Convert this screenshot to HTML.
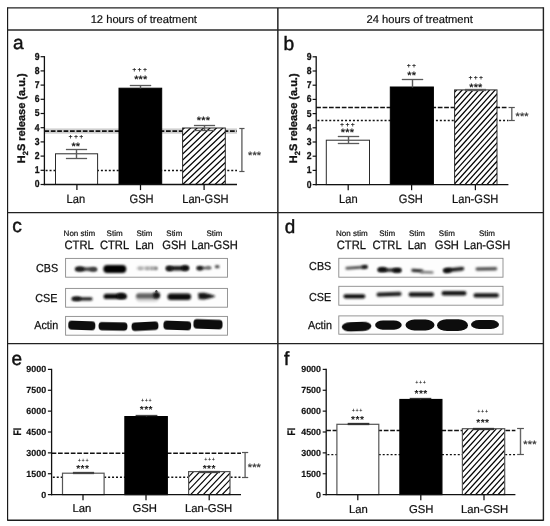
<!DOCTYPE html>
<html><head><meta charset="utf-8"><title>Figure</title>
<style>html,body{margin:0;padding:0;background:#fff;}svg{display:block;text-rendering:geometricPrecision;}text{font-family:'Liberation Sans', Arial, Helvetica, sans-serif;}</style>
</head><body>
<svg width="550" height="526" viewBox="0 0 550 526" font-family='"Liberation Sans", Arial, Helvetica, sans-serif'>
<defs>
<filter id="b1" x="-20%" y="-80%" width="140%" height="260%"><feGaussianBlur stdDeviation="0.9"/></filter>
<filter id="b2" x="-20%" y="-80%" width="140%" height="260%"><feGaussianBlur stdDeviation="1.3"/></filter>
<filter id="b0" x="-20%" y="-80%" width="140%" height="260%"><feGaussianBlur stdDeviation="0.6"/></filter>
</defs>
<rect width="550" height="526" fill="#fff"/>
<line x1="7.60" y1="7.20" x2="7.60" y2="520.85" stroke="#151515" stroke-width="1.15" />
<line x1="543.40" y1="7.20" x2="543.40" y2="520.85" stroke="#222" stroke-width="1.4" />
<line x1="7.60" y1="7.90" x2="543.40" y2="7.90" stroke="#222" stroke-width="1.4" />
<line x1="7.60" y1="520.20" x2="543.40" y2="520.20" stroke="#1c1c1c" stroke-width="1.35" />
<line x1="7.60" y1="29.95" x2="543.40" y2="29.95" stroke="#2a2a2a" stroke-width="1.5" />
<line x1="7.60" y1="212.60" x2="543.40" y2="212.60" stroke="#222" stroke-width="1.3" />
<line x1="7.60" y1="343.60" x2="543.40" y2="343.60" stroke="#222" stroke-width="1.3" />
<line x1="277.85" y1="7.90" x2="277.85" y2="520.20" stroke="#262626" stroke-width="1.5" />
<text x="143.80" y="23.20" font-size="11.2" text-anchor="middle" font-weight="normal" fill="#111" stroke="#111" stroke-width="0.2" >12 hours of treatment</text>
<text x="419.70" y="23.20" font-size="11.2" text-anchor="middle" font-weight="normal" fill="#111" stroke="#111" stroke-width="0.2" >24 hours of treatment</text>
<text x="12.90" y="49.10" font-size="19" text-anchor="start" font-weight="normal" fill="#111" stroke="#111" stroke-width="0.45" >a</text>
<text x="283.50" y="49.60" font-size="19.2" text-anchor="start" font-weight="normal" fill="#111" stroke="#111" stroke-width="0.45" >b</text>
<text x="12.20" y="232.30" font-size="19.2" text-anchor="start" font-weight="normal" fill="#111" stroke="#111" stroke-width="0.45" >c</text>
<text x="284.80" y="232.70" font-size="18.9" text-anchor="start" font-weight="normal" fill="#111" stroke="#111" stroke-width="0.45" >d</text>
<text x="11.50" y="364.70" font-size="19" text-anchor="start" font-weight="normal" fill="#111" stroke="#111" stroke-width="0.45" >e</text>
<text x="284.10" y="365.00" font-size="19" text-anchor="start" font-weight="normal" fill="#111" stroke="#111" stroke-width="0.45" >f</text>
<rect x="44.4" y="128.4" width="192.60" height="5.30" fill="#cfcfcf"/>
<line x1="44.40" y1="131.10" x2="237.00" y2="131.10" stroke="#111" stroke-width="1.55" stroke-dasharray="4.7 1.7"/>
<line x1="45.60" y1="170.40" x2="237.00" y2="170.40" stroke="#111" stroke-width="1.45" stroke-dasharray="2 1.95"/>
<rect x="55.50" y="153.80" width="42.10" height="30.70" fill="#fff" stroke="#2a2a2a" stroke-width="1"/>
<rect x="119.00" y="88.20" width="42.70" height="96.30" fill="#000" stroke="#000" stroke-width="1"/>
<rect x="182.60" y="128.00" width="42.70" height="56.50" fill="#fff"/>
<clipPath id="clip_ha"><rect x="182.60" y="128.00" width="42.70" height="56.50"/></clipPath>
<g clip-path="url(#clip_ha)" stroke="#000" stroke-width="1.25">
<line x1="123.59" y1="185.50" x2="185.24" y2="127.00"/>
<line x1="130.04" y1="185.50" x2="191.69" y2="127.00"/>
<line x1="136.49" y1="185.50" x2="198.14" y2="127.00"/>
<line x1="142.94" y1="185.50" x2="204.59" y2="127.00"/>
<line x1="149.39" y1="185.50" x2="211.04" y2="127.00"/>
<line x1="155.84" y1="185.50" x2="217.49" y2="127.00"/>
<line x1="162.29" y1="185.50" x2="223.94" y2="127.00"/>
<line x1="168.74" y1="185.50" x2="230.39" y2="127.00"/>
<line x1="175.19" y1="185.50" x2="236.84" y2="127.00"/>
<line x1="181.64" y1="185.50" x2="243.29" y2="127.00"/>
<line x1="188.09" y1="185.50" x2="249.74" y2="127.00"/>
<line x1="194.54" y1="185.50" x2="256.19" y2="127.00"/>
<line x1="200.99" y1="185.50" x2="262.64" y2="127.00"/>
<line x1="207.44" y1="185.50" x2="269.09" y2="127.00"/>
<line x1="213.89" y1="185.50" x2="275.54" y2="127.00"/>
<line x1="220.34" y1="185.50" x2="281.99" y2="127.00"/>
</g>
<rect x="182.60" y="128.00" width="42.70" height="56.50" fill="none" stroke="#2a2a2a" stroke-width="1"/>
<line x1="76.50" y1="149.50" x2="76.50" y2="158.50" stroke="#5a5a5a" stroke-width="1.4" />
<line x1="65.90" y1="149.50" x2="87.10" y2="149.50" stroke="#5a5a5a" stroke-width="1.3" />
<line x1="65.90" y1="158.50" x2="87.10" y2="158.50" stroke="#5a5a5a" stroke-width="1.3" />
<line x1="140.50" y1="85.50" x2="140.50" y2="88.50" stroke="#5a5a5a" stroke-width="1.4" />
<line x1="129.80" y1="85.50" x2="151.20" y2="85.50" stroke="#5a5a5a" stroke-width="1.3" />
<line x1="204.50" y1="125.50" x2="204.50" y2="130.50" stroke="#5a5a5a" stroke-width="1.4" />
<line x1="193.90" y1="125.50" x2="215.10" y2="125.50" stroke="#5a5a5a" stroke-width="1.3" />
<line x1="193.90" y1="130.50" x2="215.10" y2="130.50" stroke="#5a5a5a" stroke-width="1.3" />
<line x1="44.40" y1="56.10" x2="44.40" y2="185.15" stroke="#111" stroke-width="1.3" />
<line x1="43.75" y1="184.50" x2="237.00" y2="184.50" stroke="#111" stroke-width="1.3" />
<line x1="40.60" y1="184.50" x2="44.40" y2="184.50" stroke="#111" stroke-width="1.2" />
<text transform="translate(39.50,187.40) scale(0.86,1)" font-size="10.0" text-anchor="end" font-weight="bold" fill="#111" stroke="#111" stroke-width="0.3">0</text>
<line x1="40.60" y1="170.30" x2="44.40" y2="170.30" stroke="#111" stroke-width="1.2" />
<text transform="translate(39.50,173.20) scale(0.86,1)" font-size="10.0" text-anchor="end" font-weight="bold" fill="#111" stroke="#111" stroke-width="0.3">1</text>
<line x1="40.60" y1="156.10" x2="44.40" y2="156.10" stroke="#111" stroke-width="1.2" />
<text transform="translate(39.50,159.00) scale(0.86,1)" font-size="10.0" text-anchor="end" font-weight="bold" fill="#111" stroke="#111" stroke-width="0.3">2</text>
<line x1="40.60" y1="141.90" x2="44.40" y2="141.90" stroke="#111" stroke-width="1.2" />
<text transform="translate(39.50,144.80) scale(0.86,1)" font-size="10.0" text-anchor="end" font-weight="bold" fill="#111" stroke="#111" stroke-width="0.3">3</text>
<line x1="40.60" y1="127.70" x2="44.40" y2="127.70" stroke="#111" stroke-width="1.2" />
<text transform="translate(39.50,130.60) scale(0.86,1)" font-size="10.0" text-anchor="end" font-weight="bold" fill="#111" stroke="#111" stroke-width="0.3">4</text>
<line x1="40.60" y1="113.50" x2="44.40" y2="113.50" stroke="#111" stroke-width="1.2" />
<text transform="translate(39.50,116.40) scale(0.86,1)" font-size="10.0" text-anchor="end" font-weight="bold" fill="#111" stroke="#111" stroke-width="0.3">5</text>
<line x1="40.60" y1="99.30" x2="44.40" y2="99.30" stroke="#111" stroke-width="1.2" />
<text transform="translate(39.50,102.20) scale(0.86,1)" font-size="10.0" text-anchor="end" font-weight="bold" fill="#111" stroke="#111" stroke-width="0.3">6</text>
<line x1="40.60" y1="85.10" x2="44.40" y2="85.10" stroke="#111" stroke-width="1.2" />
<text transform="translate(39.50,88.00) scale(0.86,1)" font-size="10.0" text-anchor="end" font-weight="bold" fill="#111" stroke="#111" stroke-width="0.3">7</text>
<line x1="40.60" y1="70.90" x2="44.40" y2="70.90" stroke="#111" stroke-width="1.2" />
<text transform="translate(39.50,73.80) scale(0.86,1)" font-size="10.0" text-anchor="end" font-weight="bold" fill="#111" stroke="#111" stroke-width="0.3">8</text>
<line x1="40.60" y1="56.70" x2="44.40" y2="56.70" stroke="#111" stroke-width="1.2" />
<text transform="translate(39.50,59.60) scale(0.86,1)" font-size="10.0" text-anchor="end" font-weight="bold" fill="#111" stroke="#111" stroke-width="0.3">9</text>
<line x1="76.90" y1="184.50" x2="76.90" y2="190.10" stroke="#111" stroke-width="1.25" />
<text transform="translate(75.80,203.00) scale(0.92,1)" font-size="12.1" text-anchor="middle" font-weight="normal" fill="#111" stroke="#111" stroke-width="0.22" >Lan</text>
<line x1="140.50" y1="184.50" x2="140.50" y2="190.10" stroke="#111" stroke-width="1.25" />
<text transform="translate(141.60,203.00) scale(0.92,1)" font-size="12.1" text-anchor="middle" font-weight="normal" fill="#111" stroke="#111" stroke-width="0.22" >GSH</text>
<line x1="204.10" y1="184.50" x2="204.10" y2="190.10" stroke="#111" stroke-width="1.25" />
<text transform="translate(205.40,203.00) scale(0.92,1)" font-size="12.1" text-anchor="middle" font-weight="normal" fill="#111" stroke="#111" stroke-width="0.22" >Lan-GSH</text>
<line x1="241.90" y1="128.50" x2="241.90" y2="171.50" stroke="#666" stroke-width="1.4" />
<line x1="239.30" y1="128.50" x2="244.50" y2="128.50" stroke="#555" stroke-width="1.2" />
<line x1="239.30" y1="171.50" x2="244.50" y2="171.50" stroke="#555" stroke-width="1.2" />
<text x="250.20 254.60 259.00" y="158.52" font-size="11" text-anchor="middle" font-weight="bold" fill="#444">***</text>
<text x="136.30 140.70 145.10" y="83.42" font-size="11" text-anchor="middle" font-weight="bold" fill="#222">***</text>
<text x="73.55 77.95" y="149.52" font-size="11" text-anchor="middle" font-weight="bold" fill="#222">**</text>
<text x="199.00 203.40 207.80" y="123.72" font-size="11" text-anchor="middle" font-weight="bold" fill="#222">***</text>
<text x="134.30 139.60 144.90" y="72.19" font-size="6.9" text-anchor="middle" font-weight="bold" fill="#222">+++</text>
<text x="70.60 75.90 81.20" y="138.89" font-size="6.9" text-anchor="middle" font-weight="bold" fill="#222">+++</text>
<text transform="translate(24.7,118.3) rotate(-90)" font-size="11" font-weight="bold" text-anchor="middle" fill="#111" stroke="#111" stroke-width="0.3">H<tspan font-size="7.5" dy="2.8">2</tspan><tspan dy="-2.8">S release (a.u.)</tspan></text>
<line x1="316.20" y1="107.45" x2="508.40" y2="107.45" stroke="#111" stroke-width="1.55" stroke-dasharray="4.7 1.7"/>
<line x1="317.40" y1="120.50" x2="508.40" y2="120.50" stroke="#111" stroke-width="1.45" stroke-dasharray="2 1.95"/>
<rect x="326.30" y="140.20" width="43.20" height="44.40" fill="#fff" stroke="#2a2a2a" stroke-width="1"/>
<rect x="390.30" y="87.00" width="43.10" height="97.60" fill="#000" stroke="#000" stroke-width="1"/>
<rect x="454.60" y="89.90" width="42.40" height="94.70" fill="#fff"/>
<clipPath id="clip_hb"><rect x="454.60" y="89.90" width="42.40" height="94.70"/></clipPath>
<g clip-path="url(#clip_hb)" stroke="#000" stroke-width="1.25">
<line x1="370.54" y1="185.60" x2="457.61" y2="88.90"/>
<line x1="376.04" y1="185.60" x2="463.11" y2="88.90"/>
<line x1="381.54" y1="185.60" x2="468.61" y2="88.90"/>
<line x1="387.04" y1="185.60" x2="474.11" y2="88.90"/>
<line x1="392.54" y1="185.60" x2="479.61" y2="88.90"/>
<line x1="398.04" y1="185.60" x2="485.11" y2="88.90"/>
<line x1="403.54" y1="185.60" x2="490.61" y2="88.90"/>
<line x1="409.04" y1="185.60" x2="496.11" y2="88.90"/>
<line x1="414.54" y1="185.60" x2="501.61" y2="88.90"/>
<line x1="420.04" y1="185.60" x2="507.11" y2="88.90"/>
<line x1="425.54" y1="185.60" x2="512.61" y2="88.90"/>
<line x1="431.04" y1="185.60" x2="518.11" y2="88.90"/>
<line x1="436.54" y1="185.60" x2="523.61" y2="88.90"/>
<line x1="442.04" y1="185.60" x2="529.11" y2="88.90"/>
<line x1="447.54" y1="185.60" x2="534.61" y2="88.90"/>
<line x1="453.04" y1="185.60" x2="540.11" y2="88.90"/>
<line x1="458.54" y1="185.60" x2="545.61" y2="88.90"/>
<line x1="464.04" y1="185.60" x2="551.11" y2="88.90"/>
<line x1="469.54" y1="185.60" x2="556.61" y2="88.90"/>
<line x1="475.04" y1="185.60" x2="562.11" y2="88.90"/>
<line x1="480.54" y1="185.60" x2="567.61" y2="88.90"/>
<line x1="486.04" y1="185.60" x2="573.11" y2="88.90"/>
<line x1="491.54" y1="185.60" x2="578.61" y2="88.90"/>
<line x1="497.04" y1="185.60" x2="584.11" y2="88.90"/>
</g>
<rect x="454.60" y="89.90" width="42.40" height="94.70" fill="none" stroke="#2a2a2a" stroke-width="1"/>
<line x1="348.50" y1="136.50" x2="348.50" y2="143.50" stroke="#5a5a5a" stroke-width="1.4" />
<line x1="337.80" y1="136.50" x2="359.20" y2="136.50" stroke="#5a5a5a" stroke-width="1.3" />
<line x1="337.80" y1="143.50" x2="359.20" y2="143.50" stroke="#5a5a5a" stroke-width="1.3" />
<line x1="412.50" y1="79.50" x2="412.50" y2="87.50" stroke="#5a5a5a" stroke-width="1.4" />
<line x1="401.80" y1="79.50" x2="423.20" y2="79.50" stroke="#5a5a5a" stroke-width="1.3" />
<line x1="475.50" y1="89.50" x2="475.50" y2="90.50" stroke="#5a5a5a" stroke-width="1.4" />
<line x1="464.90" y1="89.50" x2="486.10" y2="89.50" stroke="#5a5a5a" stroke-width="1.3" />
<line x1="464.90" y1="90.50" x2="486.10" y2="90.50" stroke="#5a5a5a" stroke-width="1.3" />
<line x1="316.20" y1="56.20" x2="316.20" y2="185.25" stroke="#111" stroke-width="1.3" />
<line x1="315.55" y1="184.60" x2="508.40" y2="184.60" stroke="#111" stroke-width="1.3" />
<line x1="312.60" y1="184.60" x2="316.20" y2="184.60" stroke="#111" stroke-width="1.2" />
<text transform="translate(311.60,187.50) scale(0.86,1)" font-size="10.0" text-anchor="end" font-weight="bold" fill="#111" stroke="#111" stroke-width="0.3">0</text>
<line x1="312.60" y1="170.40" x2="316.20" y2="170.40" stroke="#111" stroke-width="1.2" />
<text transform="translate(311.60,173.30) scale(0.86,1)" font-size="10.0" text-anchor="end" font-weight="bold" fill="#111" stroke="#111" stroke-width="0.3">1</text>
<line x1="312.60" y1="156.20" x2="316.20" y2="156.20" stroke="#111" stroke-width="1.2" />
<text transform="translate(311.60,159.10) scale(0.86,1)" font-size="10.0" text-anchor="end" font-weight="bold" fill="#111" stroke="#111" stroke-width="0.3">2</text>
<line x1="312.60" y1="142.00" x2="316.20" y2="142.00" stroke="#111" stroke-width="1.2" />
<text transform="translate(311.60,144.90) scale(0.86,1)" font-size="10.0" text-anchor="end" font-weight="bold" fill="#111" stroke="#111" stroke-width="0.3">3</text>
<line x1="312.60" y1="127.80" x2="316.20" y2="127.80" stroke="#111" stroke-width="1.2" />
<text transform="translate(311.60,130.70) scale(0.86,1)" font-size="10.0" text-anchor="end" font-weight="bold" fill="#111" stroke="#111" stroke-width="0.3">4</text>
<line x1="312.60" y1="113.60" x2="316.20" y2="113.60" stroke="#111" stroke-width="1.2" />
<text transform="translate(311.60,116.50) scale(0.86,1)" font-size="10.0" text-anchor="end" font-weight="bold" fill="#111" stroke="#111" stroke-width="0.3">5</text>
<line x1="312.60" y1="99.40" x2="316.20" y2="99.40" stroke="#111" stroke-width="1.2" />
<text transform="translate(311.60,102.30) scale(0.86,1)" font-size="10.0" text-anchor="end" font-weight="bold" fill="#111" stroke="#111" stroke-width="0.3">6</text>
<line x1="312.60" y1="85.20" x2="316.20" y2="85.20" stroke="#111" stroke-width="1.2" />
<text transform="translate(311.60,88.10) scale(0.86,1)" font-size="10.0" text-anchor="end" font-weight="bold" fill="#111" stroke="#111" stroke-width="0.3">7</text>
<line x1="312.60" y1="71.00" x2="316.20" y2="71.00" stroke="#111" stroke-width="1.2" />
<text transform="translate(311.60,73.90) scale(0.86,1)" font-size="10.0" text-anchor="end" font-weight="bold" fill="#111" stroke="#111" stroke-width="0.3">8</text>
<line x1="312.60" y1="56.80" x2="316.20" y2="56.80" stroke="#111" stroke-width="1.2" />
<text transform="translate(311.60,59.70) scale(0.86,1)" font-size="10.0" text-anchor="end" font-weight="bold" fill="#111" stroke="#111" stroke-width="0.3">9</text>
<line x1="348.20" y1="184.60" x2="348.20" y2="190.20" stroke="#111" stroke-width="1.25" />
<text transform="translate(348.40,203.00) scale(0.92,1)" font-size="12.1" text-anchor="middle" font-weight="normal" fill="#111" stroke="#111" stroke-width="0.22" >Lan</text>
<line x1="411.60" y1="184.60" x2="411.60" y2="190.20" stroke="#111" stroke-width="1.25" />
<text transform="translate(410.80,203.00) scale(0.92,1)" font-size="12.1" text-anchor="middle" font-weight="normal" fill="#111" stroke="#111" stroke-width="0.22" >GSH</text>
<line x1="475.40" y1="184.60" x2="475.40" y2="190.20" stroke="#111" stroke-width="1.25" />
<text transform="translate(475.20,203.00) scale(0.92,1)" font-size="12.1" text-anchor="middle" font-weight="normal" fill="#111" stroke="#111" stroke-width="0.22" >Lan-GSH</text>
<line x1="511.80" y1="107.50" x2="511.80" y2="120.50" stroke="#666" stroke-width="1.4" />
<line x1="508.80" y1="107.50" x2="514.80" y2="107.50" stroke="#555" stroke-width="1.2" />
<line x1="508.80" y1="120.50" x2="514.80" y2="120.50" stroke="#555" stroke-width="1.2" />
<text x="517.70 522.10 526.50" y="119.62" font-size="11" text-anchor="middle" font-weight="bold" fill="#444">***</text>
<text x="343.00 347.40 351.80" y="136.42" font-size="11" text-anchor="middle" font-weight="bold" fill="#222">***</text>
<text x="409.50 413.90" y="78.52" font-size="11" text-anchor="middle" font-weight="bold" fill="#222">**</text>
<text x="471.40 475.80 480.20" y="90.52" font-size="11" text-anchor="middle" font-weight="bold" fill="#222">***</text>
<text x="342.10 347.40 352.70" y="127.49" font-size="6.9" text-anchor="middle" font-weight="bold" fill="#222">+++</text>
<text x="408.75 414.05" y="67.79" font-size="6.9" text-anchor="middle" font-weight="bold" fill="#222">++</text>
<text x="470.50 475.80 481.10" y="80.39" font-size="6.9" text-anchor="middle" font-weight="bold" fill="#222">+++</text>
<text transform="translate(296.9,118.3) rotate(-90)" font-size="11" font-weight="bold" text-anchor="middle" fill="#111" stroke="#111" stroke-width="0.3">H<tspan font-size="7.5" dy="2.8">2</tspan><tspan dy="-2.8">S release (a.u.)</tspan></text>
<line x1="51.60" y1="453.25" x2="241.00" y2="453.25" stroke="#111" stroke-width="1.55" stroke-dasharray="4.7 1.7"/>
<line x1="52.80" y1="477.20" x2="241.00" y2="477.20" stroke="#111" stroke-width="1.45" stroke-dasharray="2 1.95"/>
<rect x="62.50" y="473.20" width="41.60" height="21.40" fill="#fff" stroke="#555" stroke-width="1.2"/>
<rect x="124.90" y="416.60" width="42.40" height="78.00" fill="#000" stroke="#000" stroke-width="1.2"/>
<rect x="188.60" y="471.60" width="41.40" height="23.00" fill="#fff"/>
<clipPath id="clip_he"><rect x="188.60" y="471.60" width="41.40" height="23.00"/></clipPath>
<g clip-path="url(#clip_he)" stroke="#000" stroke-width="1.15">
<line x1="164.53" y1="495.60" x2="188.25" y2="470.60"/>
<line x1="170.83" y1="495.60" x2="194.55" y2="470.60"/>
<line x1="177.13" y1="495.60" x2="200.85" y2="470.60"/>
<line x1="183.43" y1="495.60" x2="207.15" y2="470.60"/>
<line x1="189.73" y1="495.60" x2="213.45" y2="470.60"/>
<line x1="196.03" y1="495.60" x2="219.75" y2="470.60"/>
<line x1="202.33" y1="495.60" x2="226.05" y2="470.60"/>
<line x1="208.63" y1="495.60" x2="232.35" y2="470.60"/>
<line x1="214.93" y1="495.60" x2="238.65" y2="470.60"/>
<line x1="221.23" y1="495.60" x2="244.95" y2="470.60"/>
<line x1="227.53" y1="495.60" x2="251.25" y2="470.60"/>
</g>
<rect x="188.60" y="471.60" width="41.40" height="23.00" fill="none" stroke="#555" stroke-width="1.2"/>
<line x1="83.50" y1="472.50" x2="83.50" y2="473.50" stroke="#444" stroke-width="1.4" />
<line x1="72.90" y1="472.50" x2="94.10" y2="472.50" stroke="#444" stroke-width="1.3" />
<line x1="72.90" y1="473.50" x2="94.10" y2="473.50" stroke="#444" stroke-width="1.3" />
<line x1="146.50" y1="415.50" x2="146.50" y2="416.50" stroke="#444" stroke-width="1.4" />
<line x1="135.60" y1="415.50" x2="157.40" y2="415.50" stroke="#444" stroke-width="1.3" />
<line x1="209.50" y1="471.50" x2="209.50" y2="472.50" stroke="#444" stroke-width="1.4" />
<line x1="199.00" y1="471.50" x2="220.00" y2="471.50" stroke="#444" stroke-width="1.3" />
<line x1="199.00" y1="472.50" x2="220.00" y2="472.50" stroke="#444" stroke-width="1.3" />
<line x1="51.60" y1="368.80" x2="51.60" y2="495.25" stroke="#111" stroke-width="1.3" />
<line x1="50.95" y1="494.60" x2="241.00" y2="494.60" stroke="#111" stroke-width="1.3" />
<line x1="47.90" y1="494.60" x2="51.60" y2="494.60" stroke="#111" stroke-width="1.2" />
<text transform="translate(46.10,497.65) scale(1,1)" font-size="8.9" text-anchor="end" font-weight="bold" fill="#111" stroke="#111" stroke-width="0.15">0</text>
<line x1="47.90" y1="473.73" x2="51.60" y2="473.73" stroke="#111" stroke-width="1.2" />
<text transform="translate(46.10,476.78) scale(1,1)" font-size="8.9" text-anchor="end" font-weight="bold" fill="#111" stroke="#111" stroke-width="0.15">1500</text>
<line x1="47.90" y1="452.87" x2="51.60" y2="452.87" stroke="#111" stroke-width="1.2" />
<text transform="translate(46.10,455.92) scale(1,1)" font-size="8.9" text-anchor="end" font-weight="bold" fill="#111" stroke="#111" stroke-width="0.15">3000</text>
<line x1="47.90" y1="432.00" x2="51.60" y2="432.00" stroke="#111" stroke-width="1.2" />
<text transform="translate(46.10,435.05) scale(1,1)" font-size="8.9" text-anchor="end" font-weight="bold" fill="#111" stroke="#111" stroke-width="0.15">4500</text>
<line x1="47.90" y1="411.13" x2="51.60" y2="411.13" stroke="#111" stroke-width="1.2" />
<text transform="translate(46.10,414.18) scale(1,1)" font-size="8.9" text-anchor="end" font-weight="bold" fill="#111" stroke="#111" stroke-width="0.15">6000</text>
<line x1="47.90" y1="390.27" x2="51.60" y2="390.27" stroke="#111" stroke-width="1.2" />
<text transform="translate(46.10,393.32) scale(1,1)" font-size="8.9" text-anchor="end" font-weight="bold" fill="#111" stroke="#111" stroke-width="0.15">7500</text>
<line x1="47.90" y1="369.40" x2="51.60" y2="369.40" stroke="#111" stroke-width="1.2" />
<text transform="translate(46.10,372.45) scale(1,1)" font-size="8.9" text-anchor="end" font-weight="bold" fill="#111" stroke="#111" stroke-width="0.15">9000</text>
<line x1="83.00" y1="494.60" x2="83.00" y2="500.20" stroke="#111" stroke-width="1.25" />
<text x="81.90" y="512.30" font-size="11.3" text-anchor="middle" font-weight="normal" fill="#111" stroke="#111" stroke-width="0.22" >Lan</text>
<line x1="146.00" y1="494.60" x2="146.00" y2="500.20" stroke="#111" stroke-width="1.25" />
<text x="144.70" y="512.30" font-size="11.3" text-anchor="middle" font-weight="normal" fill="#111" stroke="#111" stroke-width="0.22" >GSH</text>
<line x1="209.20" y1="494.60" x2="209.20" y2="500.20" stroke="#111" stroke-width="1.25" />
<text x="208.60" y="512.30" font-size="11.3" text-anchor="middle" font-weight="normal" fill="#111" stroke="#111" stroke-width="0.22" >Lan-GSH</text>
<line x1="245.10" y1="452.50" x2="245.10" y2="477.50" stroke="#666" stroke-width="1.4" />
<line x1="242.00" y1="452.50" x2="248.20" y2="452.50" stroke="#555" stroke-width="1.2" />
<line x1="242.00" y1="477.50" x2="248.20" y2="477.50" stroke="#555" stroke-width="1.2" />
<text x="249.90 254.30 258.70" y="471.22" font-size="11" text-anchor="middle" font-weight="bold" fill="#444">***</text>
<text x="78.20 82.60 87.00" y="472.42" font-size="10.2" text-anchor="middle" font-weight="bold" fill="#222">***</text>
<text x="141.80 146.20 150.60" y="413.12" font-size="10.2" text-anchor="middle" font-weight="bold" fill="#222">***</text>
<text x="204.65 209.05 213.45" y="471.62" font-size="10.2" text-anchor="middle" font-weight="bold" fill="#222">***</text>
<text x="79.40 83.20 87.00" y="462.20" font-size="5.4" text-anchor="middle" font-weight="bold" fill="#222">+++</text>
<text x="142.50 146.30 150.10" y="402.20" font-size="5.4" text-anchor="middle" font-weight="bold" fill="#222">+++</text>
<text x="205.80 209.60 213.40" y="461.10" font-size="5.4" text-anchor="middle" font-weight="bold" fill="#222">+++</text>
<text transform="translate(21.1,431.6) rotate(-90) scale(0.78,1)" font-size="10.9" font-weight="bold" text-anchor="middle" fill="#111" stroke="#111" stroke-width="0.3">FI</text>
<line x1="326.20" y1="430.55" x2="515.40" y2="430.55" stroke="#111" stroke-width="1.55" stroke-dasharray="4.7 1.7"/>
<line x1="327.40" y1="454.60" x2="515.40" y2="454.60" stroke="#111" stroke-width="1.45" stroke-dasharray="2 1.95"/>
<rect x="336.90" y="424.30" width="41.90" height="70.30" fill="#fff" stroke="#555" stroke-width="1.2"/>
<rect x="399.90" y="399.50" width="42.00" height="95.10" fill="#000" stroke="#000" stroke-width="1.2"/>
<rect x="462.40" y="428.70" width="42.30" height="65.90" fill="#fff"/>
<clipPath id="clip_hf"><rect x="462.40" y="428.70" width="42.30" height="65.90"/></clipPath>
<g clip-path="url(#clip_hf)" stroke="#000" stroke-width="1.25">
<line x1="401.93" y1="495.60" x2="463.72" y2="427.70"/>
<line x1="407.53" y1="495.60" x2="469.32" y2="427.70"/>
<line x1="413.13" y1="495.60" x2="474.92" y2="427.70"/>
<line x1="418.73" y1="495.60" x2="480.52" y2="427.70"/>
<line x1="424.33" y1="495.60" x2="486.12" y2="427.70"/>
<line x1="429.93" y1="495.60" x2="491.72" y2="427.70"/>
<line x1="435.53" y1="495.60" x2="497.32" y2="427.70"/>
<line x1="441.13" y1="495.60" x2="502.92" y2="427.70"/>
<line x1="446.73" y1="495.60" x2="508.52" y2="427.70"/>
<line x1="452.33" y1="495.60" x2="514.12" y2="427.70"/>
<line x1="457.93" y1="495.60" x2="519.72" y2="427.70"/>
<line x1="463.53" y1="495.60" x2="525.32" y2="427.70"/>
<line x1="469.13" y1="495.60" x2="530.92" y2="427.70"/>
<line x1="474.73" y1="495.60" x2="536.52" y2="427.70"/>
<line x1="480.33" y1="495.60" x2="542.12" y2="427.70"/>
<line x1="485.93" y1="495.60" x2="547.72" y2="427.70"/>
<line x1="491.53" y1="495.60" x2="553.32" y2="427.70"/>
<line x1="497.13" y1="495.60" x2="558.92" y2="427.70"/>
<line x1="502.73" y1="495.60" x2="564.52" y2="427.70"/>
</g>
<rect x="462.40" y="428.70" width="42.30" height="65.90" fill="none" stroke="#555" stroke-width="1.2"/>
<line x1="358.50" y1="423.50" x2="358.50" y2="424.50" stroke="#333" stroke-width="1.4" />
<line x1="347.70" y1="423.50" x2="369.30" y2="423.50" stroke="#333" stroke-width="1.3" />
<line x1="347.70" y1="424.50" x2="369.30" y2="424.50" stroke="#333" stroke-width="1.3" />
<line x1="420.50" y1="398.50" x2="420.50" y2="399.50" stroke="#333" stroke-width="1.4" />
<line x1="409.70" y1="398.50" x2="431.30" y2="398.50" stroke="#333" stroke-width="1.3" />
<line x1="483.50" y1="428.50" x2="483.50" y2="429.50" stroke="#333" stroke-width="1.4" />
<line x1="472.90" y1="428.50" x2="494.10" y2="428.50" stroke="#333" stroke-width="1.3" />
<line x1="472.90" y1="429.50" x2="494.10" y2="429.50" stroke="#333" stroke-width="1.3" />
<line x1="326.20" y1="368.80" x2="326.20" y2="495.25" stroke="#111" stroke-width="1.3" />
<line x1="325.55" y1="494.60" x2="515.40" y2="494.60" stroke="#111" stroke-width="1.3" />
<line x1="322.70" y1="494.60" x2="326.20" y2="494.60" stroke="#111" stroke-width="1.2" />
<text transform="translate(321.00,497.65) scale(1,1)" font-size="8.9" text-anchor="end" font-weight="bold" fill="#111" stroke="#111" stroke-width="0.15">0</text>
<line x1="322.70" y1="473.73" x2="326.20" y2="473.73" stroke="#111" stroke-width="1.2" />
<text transform="translate(321.00,476.78) scale(1,1)" font-size="8.9" text-anchor="end" font-weight="bold" fill="#111" stroke="#111" stroke-width="0.15">1500</text>
<line x1="322.70" y1="452.87" x2="326.20" y2="452.87" stroke="#111" stroke-width="1.2" />
<text transform="translate(321.00,455.92) scale(1,1)" font-size="8.9" text-anchor="end" font-weight="bold" fill="#111" stroke="#111" stroke-width="0.15">3000</text>
<line x1="322.70" y1="432.00" x2="326.20" y2="432.00" stroke="#111" stroke-width="1.2" />
<text transform="translate(321.00,435.05) scale(1,1)" font-size="8.9" text-anchor="end" font-weight="bold" fill="#111" stroke="#111" stroke-width="0.15">4500</text>
<line x1="322.70" y1="411.13" x2="326.20" y2="411.13" stroke="#111" stroke-width="1.2" />
<text transform="translate(321.00,414.18) scale(1,1)" font-size="8.9" text-anchor="end" font-weight="bold" fill="#111" stroke="#111" stroke-width="0.15">6000</text>
<line x1="322.70" y1="390.27" x2="326.20" y2="390.27" stroke="#111" stroke-width="1.2" />
<text transform="translate(321.00,393.32) scale(1,1)" font-size="8.9" text-anchor="end" font-weight="bold" fill="#111" stroke="#111" stroke-width="0.15">7500</text>
<line x1="322.70" y1="369.40" x2="326.20" y2="369.40" stroke="#111" stroke-width="1.2" />
<text transform="translate(321.00,372.45) scale(1,1)" font-size="8.9" text-anchor="end" font-weight="bold" fill="#111" stroke="#111" stroke-width="0.15">9000</text>
<line x1="357.80" y1="494.60" x2="357.80" y2="500.20" stroke="#111" stroke-width="1.25" />
<text x="358.40" y="513.00" font-size="11.3" text-anchor="middle" font-weight="normal" fill="#111" stroke="#111" stroke-width="0.22" >Lan</text>
<line x1="420.80" y1="494.60" x2="420.80" y2="500.20" stroke="#111" stroke-width="1.25" />
<text x="421.30" y="513.00" font-size="11.3" text-anchor="middle" font-weight="normal" fill="#111" stroke="#111" stroke-width="0.22" >GSH</text>
<line x1="484.00" y1="494.60" x2="484.00" y2="500.20" stroke="#111" stroke-width="1.25" />
<text x="484.60" y="513.00" font-size="11.3" text-anchor="middle" font-weight="normal" fill="#111" stroke="#111" stroke-width="0.22" >Lan-GSH</text>
<line x1="520.50" y1="428.50" x2="520.50" y2="454.50" stroke="#666" stroke-width="1.4" />
<line x1="517.10" y1="428.50" x2="523.90" y2="428.50" stroke="#555" stroke-width="1.2" />
<line x1="517.10" y1="454.50" x2="523.90" y2="454.50" stroke="#555" stroke-width="1.2" />
<text x="525.50 529.90 534.30" y="447.92" font-size="11" text-anchor="middle" font-weight="bold" fill="#444">***</text>
<text x="353.10 357.50 361.90" y="423.42" font-size="10.2" text-anchor="middle" font-weight="bold" fill="#222">***</text>
<text x="416.50 420.90 425.30" y="396.52" font-size="10.2" text-anchor="middle" font-weight="bold" fill="#222">***</text>
<text x="478.30 482.70 487.10" y="426.12" font-size="10.2" text-anchor="middle" font-weight="bold" fill="#222">***</text>
<text x="353.30 357.10 360.90" y="412.00" font-size="5.4" text-anchor="middle" font-weight="bold" fill="#222">+++</text>
<text x="416.80 420.60 424.40" y="383.80" font-size="5.4" text-anchor="middle" font-weight="bold" fill="#222">+++</text>
<text x="478.90 482.70 486.50" y="412.90" font-size="5.4" text-anchor="middle" font-weight="bold" fill="#222">+++</text>
<text transform="translate(295.3,431.6) rotate(-90) scale(0.78,1)" font-size="10.9" font-weight="bold" text-anchor="middle" fill="#111" stroke="#111" stroke-width="0.3">FI</text>
<rect x="65.6" y="258.4" width="161.90" height="18.80" fill="#fdfdfd" stroke="#8a8a8a" stroke-width="0.9"/>
<rect x="65.6" y="288.4" width="161.90" height="18.80" fill="#fdfdfd" stroke="#8a8a8a" stroke-width="0.9"/>
<rect x="65.6" y="316.4" width="161.90" height="18.80" fill="#fdfdfd" stroke="#8a8a8a" stroke-width="0.9"/>
<text x="79.40" y="235.80" font-size="8" text-anchor="middle" font-weight="normal" fill="#111" stroke="#111" stroke-width="0.2" >Non stim</text>
<text x="114.60" y="235.80" font-size="8" text-anchor="middle" font-weight="normal" fill="#111" stroke="#111" stroke-width="0.2" >Stim</text>
<text x="144.40" y="235.80" font-size="8" text-anchor="middle" font-weight="normal" fill="#111" stroke="#111" stroke-width="0.2" >Stim</text>
<text x="174.30" y="235.80" font-size="8" text-anchor="middle" font-weight="normal" fill="#111" stroke="#111" stroke-width="0.2" >Stim</text>
<text x="214.40" y="235.80" font-size="8" text-anchor="middle" font-weight="normal" fill="#111" stroke="#111" stroke-width="0.2" >Stim</text>
<text transform="translate(79.10,249.10) scale(0.925,1)" font-size="12.1" text-anchor="middle" font-weight="normal" fill="#111" stroke="#111" stroke-width="0.25" >CTRL</text>
<text transform="translate(114.50,249.10) scale(0.925,1)" font-size="12.1" text-anchor="middle" font-weight="normal" fill="#111" stroke="#111" stroke-width="0.25" >CTRL</text>
<text transform="translate(144.50,249.10) scale(0.925,1)" font-size="12.1" text-anchor="middle" font-weight="normal" fill="#111" stroke="#111" stroke-width="0.25" >Lan</text>
<text transform="translate(174.30,249.10) scale(0.925,1)" font-size="12.1" text-anchor="middle" font-weight="normal" fill="#111" stroke="#111" stroke-width="0.25" >GSH</text>
<text transform="translate(214.50,249.10) scale(0.925,1)" font-size="12.1" text-anchor="middle" font-weight="normal" fill="#111" stroke="#111" stroke-width="0.25" >Lan-GSH</text>
<text transform="translate(47.00,271.50) scale(0.93,1)" font-size="11.6" text-anchor="middle" font-weight="normal" fill="#111" stroke="#111" stroke-width="0.25" >CBS</text>
<text transform="translate(46.30,302.10) scale(0.93,1)" font-size="11.6" text-anchor="middle" font-weight="normal" fill="#111" stroke="#111" stroke-width="0.25" >CSE</text>
<text transform="translate(46.20,329.30) scale(0.93,1)" font-size="11.6" text-anchor="middle" font-weight="normal" fill="#111" stroke="#111" stroke-width="0.25" >Actin</text>
<rect x="75.45" y="267.30" width="21.50" height="3.80" rx="1.90" ry="1.90" fill="#484848" opacity="1" filter="url(#b1)" transform="rotate(0 86.20 269.20)"/>
<ellipse cx="79.80" cy="269.00" rx="4.75" ry="2.50" fill="#1c1c1c" opacity="1" filter="url(#b1)" transform="rotate(0 79.80 269.00)"/>
<ellipse cx="93.20" cy="269.50" rx="3.75" ry="2.00" fill="#3c3c3c" opacity="1" filter="url(#b1)" transform="rotate(0 93.20 269.50)"/>
<rect x="103.30" y="264.90" width="23.00" height="8.00" rx="4.00" ry="4.00" fill="#060606" opacity="1" filter="url(#b1)" transform="rotate(0 114.80 268.90)"/>
<rect x="136.70" y="266.60" width="21.00" height="3.40" rx="1.70" ry="1.70" fill="#c4c4c4" opacity="1" filter="url(#b2)" transform="rotate(0 147.20 268.30)"/>
<ellipse cx="140.50" cy="268.30" rx="1.70" ry="1.60" fill="#aaa" opacity="1" filter="url(#b1)" transform="rotate(0 140.50 268.30)"/>
<ellipse cx="147.50" cy="268.30" rx="1.70" ry="1.60" fill="#a0a0a0" opacity="1" filter="url(#b1)" transform="rotate(0 147.50 268.30)"/>
<ellipse cx="152.00" cy="268.30" rx="1.70" ry="1.60" fill="#999" opacity="1" filter="url(#b1)" transform="rotate(0 152.00 268.30)"/>
<ellipse cx="155.80" cy="268.30" rx="1.70" ry="1.60" fill="#777" opacity="1" filter="url(#b1)" transform="rotate(0 155.80 268.30)"/>
<rect x="165.90" y="266.00" width="22.80" height="4.60" rx="2.30" ry="2.30" fill="#1c1c1c" opacity="1" filter="url(#b1)" transform="rotate(0 177.30 268.30)"/>
<ellipse cx="169.40" cy="268.70" rx="3.25" ry="2.40" fill="#161616" opacity="1" filter="url(#b1)" transform="rotate(0 169.40 268.70)"/>
<ellipse cx="185.20" cy="268.00" rx="3.75" ry="2.80" fill="#0e0e0e" opacity="1" filter="url(#b1)" transform="rotate(0 185.20 268.00)"/>
<rect x="196.95" y="266.70" width="14.50" height="2.60" rx="1.30" ry="1.30" fill="#555" opacity="1" filter="url(#b1)" transform="rotate(0 204.20 268.00)"/>
<ellipse cx="199.80" cy="268.20" rx="3.25" ry="2.20" fill="#1c1c1c" opacity="1" filter="url(#b1)" transform="rotate(0 199.80 268.20)"/>
<ellipse cx="208.40" cy="267.60" rx="2.00" ry="1.30" fill="#777" opacity="1" filter="url(#b1)" transform="rotate(0 208.40 267.60)"/>
<ellipse cx="217.20" cy="266.70" rx="2.40" ry="1.60" fill="#444" opacity="1" filter="url(#b1)" transform="rotate(0 217.20 266.70)"/>
<rect x="71.50" y="297.25" width="21.00" height="3.30" rx="1.65" ry="1.65" fill="#1a1a1a" opacity="1" filter="url(#b1)" transform="rotate(0 82.00 298.90)"/>
<ellipse cx="76.80" cy="298.70" rx="4.25" ry="2.10" fill="#141414" opacity="1" filter="url(#b1)" transform="rotate(0 76.80 298.70)"/>
<rect x="103.60" y="293.80" width="23.20" height="5.20" rx="2.60" ry="2.60" fill="#111" opacity="1" filter="url(#b1)" transform="rotate(0 115.20 296.40)"/>
<ellipse cx="121.00" cy="296.10" rx="4.50" ry="3.00" fill="#0e0e0e" opacity="1" filter="url(#b1)" transform="rotate(0 121.00 296.10)"/>
<rect x="135.50" y="292.70" width="24.00" height="9.00" rx="4.50" ry="4.50" fill="#d4d4d4" opacity="1" filter="url(#b2)" transform="rotate(0 147.50 297.20)"/>
<rect x="136.20" y="293.40" width="22.00" height="5.00" rx="2.50" ry="2.50" fill="#606060" opacity="1" filter="url(#b2)" transform="rotate(0 147.20 295.90)"/>
<ellipse cx="156.60" cy="295.20" rx="3.50" ry="3.30" fill="#181818" opacity="1" filter="url(#b1)" transform="rotate(0 156.60 295.20)"/>
<ellipse cx="156.40" cy="291.60" rx="1.20" ry="1.50" fill="#444" opacity="1" filter="url(#b0)" transform="rotate(0 156.40 291.60)"/>
<rect x="167.50" y="293.50" width="23.60" height="6.40" rx="3.20" ry="3.20" fill="#0c0c0c" opacity="1" filter="url(#b1)" transform="rotate(0 179.30 296.70)"/>
<polygon points="198.80,293.60 204.00,293.40 210.00,294.80 214.60,296.20 210.00,297.60 204.00,298.90 199.20,298.60" fill="#151515" stroke="#151515" stroke-width="1.2" stroke-linejoin="round" filter="url(#b1)"/>
<rect x="68.30" y="321.10" width="27.00" height="8.80" rx="3.40" ry="3.40" fill="#0a0a0a" opacity="1" filter="url(#b0)" transform="rotate(2 81.80 325.50)"/>
<rect x="98.60" y="322.20" width="28.80" height="8.20" rx="3.40" ry="3.40" fill="#0a0a0a" opacity="1" filter="url(#b0)" transform="rotate(1 113.00 326.30)"/>
<rect x="131.60" y="322.10" width="26.80" height="8.40" rx="3.40" ry="3.40" fill="#0a0a0a" opacity="1" filter="url(#b0)" transform="rotate(-3 145.00 326.30)"/>
<rect x="163.50" y="320.90" width="27.60" height="9.00" rx="3.40" ry="3.40" fill="#0a0a0a" opacity="1" filter="url(#b0)" transform="rotate(2 177.30 325.40)"/>
<rect x="193.50" y="319.40" width="29.00" height="9.60" rx="3.40" ry="3.40" fill="#0a0a0a" opacity="1" filter="url(#b0)" transform="rotate(2 208.00 324.20)"/>
<rect x="338.8" y="258.3" width="164.20" height="18.90" fill="#fdfdfd" stroke="#8a8a8a" stroke-width="0.9"/>
<rect x="338.8" y="286.3" width="164.20" height="18.90" fill="#fdfdfd" stroke="#8a8a8a" stroke-width="0.9"/>
<rect x="338.8" y="315.9" width="164.20" height="18.30" fill="#fdfdfd" stroke="#8a8a8a" stroke-width="0.9"/>
<text x="351.80" y="235.80" font-size="8" text-anchor="middle" font-weight="normal" fill="#111" stroke="#111" stroke-width="0.2" >Non stim</text>
<text x="387.20" y="235.80" font-size="8" text-anchor="middle" font-weight="normal" fill="#111" stroke="#111" stroke-width="0.2" >Stim</text>
<text x="417.00" y="235.80" font-size="8" text-anchor="middle" font-weight="normal" fill="#111" stroke="#111" stroke-width="0.2" >Stim</text>
<text x="446.80" y="235.80" font-size="8" text-anchor="middle" font-weight="normal" fill="#111" stroke="#111" stroke-width="0.2" >Stim</text>
<text x="487.00" y="235.80" font-size="8" text-anchor="middle" font-weight="normal" fill="#111" stroke="#111" stroke-width="0.2" >Stim</text>
<text transform="translate(351.40,249.10) scale(0.925,1)" font-size="12.1" text-anchor="middle" font-weight="normal" fill="#111" stroke="#111" stroke-width="0.25" >CTRL</text>
<text transform="translate(387.00,249.10) scale(0.925,1)" font-size="12.1" text-anchor="middle" font-weight="normal" fill="#111" stroke="#111" stroke-width="0.25" >CTRL</text>
<text transform="translate(417.00,249.10) scale(0.925,1)" font-size="12.1" text-anchor="middle" font-weight="normal" fill="#111" stroke="#111" stroke-width="0.25" >Lan</text>
<text transform="translate(446.80,249.10) scale(0.925,1)" font-size="12.1" text-anchor="middle" font-weight="normal" fill="#111" stroke="#111" stroke-width="0.25" >GSH</text>
<text transform="translate(487.00,249.10) scale(0.925,1)" font-size="12.1" text-anchor="middle" font-weight="normal" fill="#111" stroke="#111" stroke-width="0.25" >Lan-GSH</text>
<text transform="translate(320.20,270.00) scale(0.93,1)" font-size="11.6" text-anchor="middle" font-weight="normal" fill="#111" stroke="#111" stroke-width="0.25" >CBS</text>
<text transform="translate(320.00,301.00) scale(0.93,1)" font-size="11.6" text-anchor="middle" font-weight="normal" fill="#111" stroke="#111" stroke-width="0.25" >CSE</text>
<text transform="translate(320.00,329.00) scale(0.93,1)" font-size="11.6" text-anchor="middle" font-weight="normal" fill="#111" stroke="#111" stroke-width="0.25" >Actin</text>
<rect x="345.40" y="266.20" width="22.00" height="2.80" rx="1.40" ry="1.40" fill="#4a4a4a" opacity="1" filter="url(#b1)" transform="rotate(-4 356.40 267.60)"/>
<ellipse cx="364.60" cy="266.90" rx="3.00" ry="1.80" fill="#1a1a1a" opacity="1" filter="url(#b1)" transform="rotate(-4 364.60 266.90)"/>
<rect x="377.65" y="268.30" width="23.50" height="3.60" rx="1.80" ry="1.80" fill="#3a3a3a" opacity="1" filter="url(#b1)" transform="rotate(0 389.40 270.10)"/>
<ellipse cx="382.40" cy="269.60" rx="4.75" ry="2.50" fill="#0c0c0c" opacity="1" filter="url(#b1)" transform="rotate(0 382.40 269.60)"/>
<ellipse cx="397.00" cy="270.40" rx="4.50" ry="2.40" fill="#0c0c0c" opacity="1" filter="url(#b1)" transform="rotate(0 397.00 270.40)"/>
<rect x="411.20" y="268.90" width="12.00" height="3.40" rx="1.70" ry="1.70" fill="#2a2a2a" opacity="1" filter="url(#b1)" transform="rotate(4 417.20 270.60)"/>
<rect x="420.50" y="271.10" width="13.00" height="2.40" rx="1.20" ry="1.20" fill="#777" opacity="1" filter="url(#b1)" transform="rotate(2 427.00 272.30)"/>
<rect x="443.20" y="267.80" width="21.00" height="3.60" rx="1.80" ry="1.80" fill="#151515" opacity="1" filter="url(#b1)" transform="rotate(-6 453.70 269.60)"/>
<ellipse cx="447.50" cy="270.40" rx="4.00" ry="2.40" fill="#0c0c0c" opacity="1" filter="url(#b1)" transform="rotate(-6 447.50 270.40)"/>
<rect x="475.50" y="267.20" width="21.80" height="3.20" rx="1.60" ry="1.60" fill="#484848" opacity="1" filter="url(#b1)" transform="rotate(-1 486.40 268.80)"/>
<rect x="343.50" y="294.20" width="21.80" height="4.20" rx="2.10" ry="2.10" fill="#111" opacity="1" filter="url(#b1)" transform="rotate(0 354.40 296.30)"/>
<rect x="376.50" y="292.20" width="25.00" height="4.00" rx="2.00" ry="2.00" fill="#151515" opacity="1" filter="url(#b1)" transform="rotate(-2 389.00 294.20)"/>
<rect x="408.60" y="292.30" width="25.40" height="4.40" rx="2.20" ry="2.20" fill="#151515" opacity="1" filter="url(#b1)" transform="rotate(0 421.30 294.50)"/>
<rect x="441.60" y="291.10" width="24.80" height="4.40" rx="2.20" ry="2.20" fill="#151515" opacity="1" filter="url(#b1)" transform="rotate(0 454.00 293.30)"/>
<rect x="473.50" y="293.30" width="25.40" height="4.20" rx="2.10" ry="2.10" fill="#151515" opacity="1" filter="url(#b1)" transform="rotate(0 486.20 295.40)"/>
<rect x="341.80" y="321.90" width="29.60" height="9.40" rx="9.00" ry="4.70" fill="#0a0a0a" opacity="1" filter="url(#b0)" transform="rotate(-2 356.60 326.60)"/>
<rect x="375.10" y="320.50" width="26.60" height="9.20" rx="8.00" ry="4.60" fill="#0a0a0a" opacity="1" filter="url(#b0)" transform="rotate(0 388.40 325.10)"/>
<rect x="405.50" y="319.60" width="29.00" height="10.80" rx="9.00" ry="5.40" fill="#0a0a0a" opacity="1" filter="url(#b0)" transform="rotate(0 420.00 325.00)"/>
<rect x="437.00" y="319.30" width="31.00" height="11.80" rx="10.00" ry="5.90" fill="#0a0a0a" opacity="1" filter="url(#b0)" transform="rotate(0 452.50 325.20)"/>
<rect x="471.00" y="320.10" width="28.00" height="8.80" rx="8.00" ry="4.40" fill="#0a0a0a" opacity="1" filter="url(#b0)" transform="rotate(0 485.00 324.50)"/>
</svg>
</body></html>
